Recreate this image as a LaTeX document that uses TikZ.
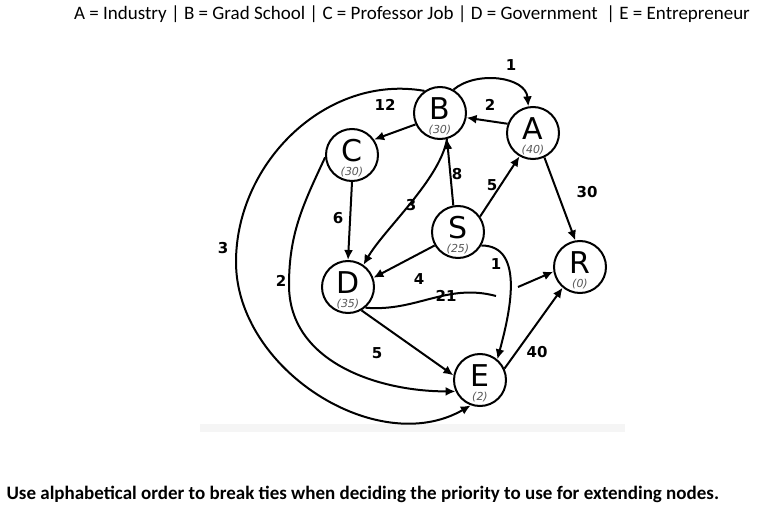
\documentclass[tikz,border=0pt]{standalone}
\usepackage{fontspec}
\setmainfont{Carlito}
\newfontfamily\djvfont{DejaVu Sans}
\usetikzlibrary{arrows.meta}
\begin{document}
\begin{tikzpicture}[x=1pt,y=-1pt,
  vtx/.style={draw,circle,line width=2pt,minimum size=52pt,inner sep=0pt},
  lt/.style={font=\djvfont\fontsize{30}{30}\selectfont,anchor=center},
  hv/.style={font=\djvfont\itshape\fontsize{11}{11}\selectfont,text=black!65},
  ed/.style={line width=2pt,-{Latex[length=10pt,width=9pt]}},
  wl/.style={font=\djvfont\bfseries\fontsize{15}{15}\selectfont}]
\fill[white] (0,0) rectangle (764,511);
\fill[black!4] (200,424) rectangle (625,432);
\node[font=\fontsize{19}{19}\selectfont] (title) at (412,14) {A = Industry | B = Grad School | C = Professor Job | D = Government \ | E = Entrepreneur};
\node[font=\bfseries\fontsize{19}{19}\selectfont,anchor=west] (foot) at (3,494) {Use alphabetical order to break ties when deciding the priority to use for extending nodes.};
\foreach \n/\x/\y/\h in {B/440/113/30,A/533/133/40,C/352/155/30,S/458/232/25,D/348/287/35,R/580/267/0,E/480/380/2}{
  \node[vtx] (\n) at (\x,\y) {};
  \node[lt] (\n l) at (\x,\y-4) {\n};
  \node[hv] (\n h) at (\x,\y+17) {(\h)};
}
\draw[ed] (B.60) to[out=40,in=95] (A.100);
\draw[ed] (A.160) -- (B.-10);
\draw[ed] (B.205) -- (C.35);
\draw[ed] (B.-75) to[out=-100,in=60,looseness=0.7] (D.55);
\draw[ed] (C.south) -- (D.north);
\draw[ed] (S.100) -- (B.-75);
\draw[ed] (S.35) -- (A.-120);
\draw[ed] (S.-150) -- (D.20);
\draw[ed] (S.-30) to[out=0,in=75] (E.50);
\coordinate (g1) at (496,296);
\coordinate (g2) at (518,287);
\draw[line width=2pt] (D.-50) to[out=-5,in=165] (g1);
\draw[ed] (g2) -- (R.190);
\draw[ed] (D.-60) -- (E.170);
\draw[ed] (A.-65) -- (R.100);
\draw[ed] (E.25) -- (R.-130);
\coordinate (cl) at (289,285);
\draw[ed] (C.185) to[out=-115,in=90] (cl) to[out=-90,in=180] (E.205);
\coordinate (bl) at (236,262);
\draw[ed] (B.125) to[out=170,in=90] (bl) to[out=-90,in=-150] (E.-110);
\node[wl] (w1) at (511,65) {1};
\node[wl] (w2) at (490,105) {2};
\node[wl] (w3) at (385,105) {12};
\node[wl] (w4) at (411,205) {3};
\node[wl] (w5) at (338,218) {6};
\node[wl] (w6) at (457,174) {8};
\node[wl] (w7) at (492,185) {5};
\node[wl] (w8) at (419,279) {4};
\node[wl] (w9) at (496,264) {1};
\node[wl] (w10) at (446,296) {21};
\node[wl] (w11) at (377,353) {5};
\node[wl] (w12) at (587,192) {30};
\node[wl] (w13) at (537,352) {40};
\node[wl] (w14) at (281,281) {2};
\node[wl] (w15) at (223,248) {3};
\end{tikzpicture}
\end{document}
